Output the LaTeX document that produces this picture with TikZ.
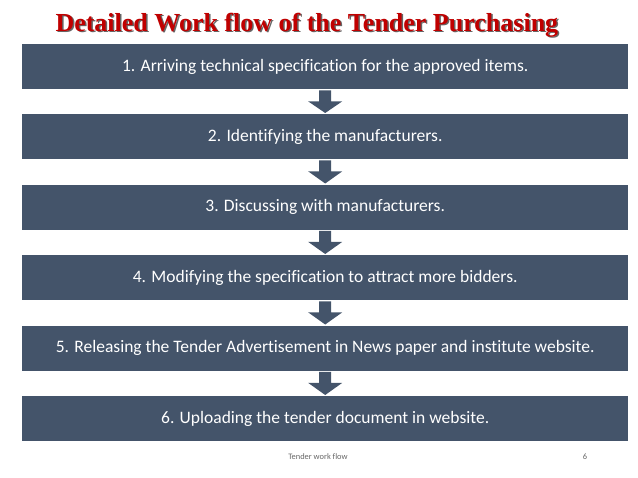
\documentclass[tikz,border=0pt]{standalone}
\usepackage{fontspec}
\setmainfont{Carlito}[Ligatures={NoCommon,NoRare,NoDiscretionary}]
\newfontfamily\titlefont{Liberation Serif}
\definecolor{boxc}{HTML}{44546A}
\definecolor{titc}{HTML}{C00000}
\begin{document}
\begin{tikzpicture}[x=1bp,y=-1bp,
  stepbox/.style={fill=boxc,draw=none,minimum width=606bp,minimum height=45bp,text=white,font=\fontsize{17.5bp}{19bp}\selectfont,anchor=north west,inner sep=0pt},
  arr/.style={fill=boxc,draw=none}]
\useasboundingbox (0,0) rectangle (638,478);
\node[font=\titlefont\bfseries\fontsize{26bp}{28bp}\selectfont,text=black!60,anchor=west] at (53.5,26.5) {Detailed Work flow of the Tender Purchasing};
\node[font=\titlefont\bfseries\fontsize{26bp}{28bp}\selectfont,text=titc,anchor=west] (title) at (52,25) {Detailed Work flow of the Tender Purchasing};
\node[stepbox] (s1) at (22,44) {1. Arriving technical specification for the approved items.};
\node[stepbox] (s2) at (22,114) {2. Identifying the manufacturers.};
\node[stepbox] (s3) at (22,184.5) {3. Discussing with manufacturers.};
\node[stepbox] (s4) at (22,255) {4. Modifying the specification to attract more bidders.};
\node[stepbox] (s5) at (22,325.5) {5. Releasing the Tender Advertisement in News paper and institute website.};
\node[stepbox] (s6) at (22,396) {6. Uploading the tender document in website.};
\foreach \a/\b in {s1/s2,s2/s3,s3/s4,s4/s5,s5/s6}{
  \path[arr] ([xshift=-6bp,yshift=-1bp]\a.south) -- ([xshift=6bp,yshift=-1bp]\a.south) -- ([xshift=6bp,yshift=-12bp]\a.south) -- ([xshift=17bp,yshift=-12bp]\a.south) -- ([yshift=1bp]\b.north) -- ([xshift=-17bp,yshift=-12bp]\a.south) -- ([xshift=-6bp,yshift=-12bp]\a.south) -- cycle;
}
\node[font=\fontsize{8.4bp}{9bp}\selectfont,text=black!60] (foot) at (318,457) {Tender work flow};
\node[font=\fontsize{8.4bp}{9bp}\selectfont,text=black!60] (pg) at (585,457) {6};
\end{tikzpicture}
\end{document}
